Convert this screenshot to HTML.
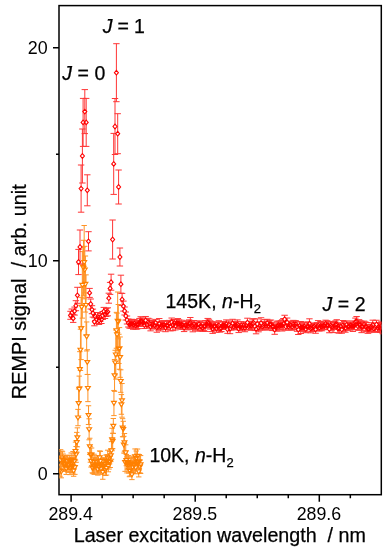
<!DOCTYPE html>
<html><head><meta charset="utf-8"><style>
html,body{margin:0;padding:0;background:#fff;width:388px;height:550px;overflow:hidden}
svg{display:block}
</style></head><body>
<svg width="388" height="550" viewBox="0 0 388 550">
<path d="M53.0 473.70H59.0M53.0 260.70H59.0M53.0 47.70H59.0M56.0 367.20H59.0M56.0 154.20H59.0M71.10 494.7v7.0M102.12 494.7v3.6M133.15 494.7v3.6M164.17 494.7v3.6M195.20 494.7v7.0M226.22 494.7v3.6M257.25 494.7v3.6M288.28 494.7v3.6M319.30 494.7v7.0M350.33 494.7v3.6" stroke="#000" stroke-width="1.5" fill="none"/><rect x="59.0" y="5.6" width="322.3" height="489.09999999999997" stroke="#000" stroke-width="1.5" fill="none"/><clipPath id="c"><rect x="59.0" y="5.6" width="322.3" height="489.09999999999997"/></clipPath><g clip-path="url(#c)"><path d="M60.00 464.71V476.25M57.30 464.71h5.4M57.30 476.25h5.4M60.62 449.71V470.19M57.92 449.71h5.4M57.92 470.19h5.4M61.24 465.24V477.82M58.54 465.24h5.4M58.54 477.82h5.4M61.86 451.07V464.17M59.16 451.07h5.4M59.16 464.17h5.4M62.48 451.82V467.00M59.78 451.82h5.4M59.78 467.00h5.4M63.10 454.00V466.60M60.40 454.00h5.4M60.40 466.60h5.4M63.72 458.47V470.61M61.02 458.47h5.4M61.02 470.61h5.4M64.34 456.40V470.50M61.64 456.40h5.4M61.64 470.50h5.4M64.96 457.78V471.32M62.26 457.78h5.4M62.26 471.32h5.4M65.58 458.47V471.07M62.88 458.47h5.4M62.88 471.07h5.4M66.20 462.35V474.43M63.50 462.35h5.4M63.50 474.43h5.4M66.82 455.44V467.42M64.12 455.44h5.4M64.12 467.42h5.4M67.44 455.21V467.87M64.74 455.21h5.4M64.74 467.87h5.4M68.06 462.23V472.41M65.36 462.23h5.4M65.36 472.41h5.4M68.68 459.21V469.41M65.98 459.21h5.4M65.98 469.41h5.4M69.30 455.43V466.29M66.60 455.43h5.4M66.60 466.29h5.4M69.92 460.32V474.64M67.22 460.32h5.4M67.22 474.64h5.4M70.54 457.19V471.61M67.84 457.19h5.4M67.84 471.61h5.4M71.16 452.99V466.83M68.46 452.99h5.4M68.46 466.83h5.4M71.78 459.39V472.61M69.08 459.39h5.4M69.08 472.61h5.4M72.40 460.05V473.07M69.70 460.05h5.4M69.70 473.07h5.4M73.02 451.56V467.14M70.32 451.56h5.4M70.32 467.14h5.4M73.64 465.00V476.28M70.94 465.00h5.4M70.94 476.28h5.4M74.26 455.38V466.68M71.56 455.38h5.4M71.56 466.68h5.4M74.88 460.20V474.36M72.18 460.20h5.4M72.18 474.36h5.4M75.50 442.11V459.97M72.80 442.11h5.4M72.80 459.97h5.4M76.12 446.51V462.29M73.42 446.51h5.4M73.42 462.29h5.4M76.74 432.39V452.05M74.04 432.39h5.4M74.04 452.05h5.4M77.36 427.85V446.83M74.66 427.85h5.4M74.66 446.83h5.4M77.98 409.36V425.72M75.28 409.36h5.4M75.28 425.72h5.4M78.60 388.99V417.45M75.90 388.99h5.4M75.90 417.45h5.4M79.22 376.10V401.74M76.52 376.10h5.4M76.52 401.74h5.4M79.84 351.67V386.73M77.14 351.67h5.4M77.14 386.73h5.4M80.46 329.18V370.44M77.76 329.18h5.4M77.76 370.44h5.4M81.08 297.34V359.62M78.38 297.34h5.4M78.38 359.62h5.4M81.70 287.41V326.49M79.00 287.41h5.4M79.00 326.49h5.4M82.32 251.60V318.14M79.62 251.60h5.4M79.62 318.14h5.4M82.94 247.16V286.22M80.24 247.16h5.4M80.24 286.22h5.4M83.56 240.31V295.33M80.86 240.31h5.4M80.86 295.33h5.4M84.18 225.50V298.82M81.48 225.50h5.4M81.48 298.82h5.4M84.80 246.32V292.96M82.10 246.32h5.4M82.10 292.96h5.4M85.42 256.01V312.05M82.72 256.01h5.4M82.72 312.05h5.4M86.04 274.86V335.24M83.34 274.86h5.4M83.34 335.24h5.4M86.66 321.96V350.96M83.96 321.96h5.4M83.96 350.96h5.4M87.28 349.75V374.43M84.58 349.75h5.4M84.58 374.43h5.4M87.90 374.51V401.63M85.20 374.51h5.4M85.20 401.63h5.4M88.52 405.75V424.47M85.82 405.75h5.4M85.82 424.47h5.4M89.14 418.81V439.81M86.44 418.81h5.4M86.44 439.81h5.4M89.76 438.24V454.44M87.06 438.24h5.4M87.06 454.44h5.4M90.38 446.75V462.21M87.68 446.75h5.4M87.68 462.21h5.4M91.00 454.79V467.09M88.30 454.79h5.4M88.30 467.09h5.4M91.62 448.02V461.46M88.92 448.02h5.4M88.92 461.46h5.4M92.24 461.93V472.87M89.54 461.93h5.4M89.54 472.87h5.4M92.86 462.71V473.29M90.16 462.71h5.4M90.16 473.29h5.4M93.48 458.04V474.00M90.78 458.04h5.4M90.78 474.00h5.4M94.10 454.21V469.59M91.40 454.21h5.4M91.40 469.59h5.4M94.72 457.35V474.35M92.02 457.35h5.4M92.02 474.35h5.4M95.34 458.81V469.77M92.64 458.81h5.4M92.64 469.77h5.4M95.96 455.73V467.83M93.26 455.73h5.4M93.26 467.83h5.4M96.58 458.23V472.21M93.88 458.23h5.4M93.88 472.21h5.4M97.20 458.05V470.97M94.50 458.05h5.4M94.50 470.97h5.4M97.82 463.53V475.11M95.12 463.53h5.4M95.12 475.11h5.4M98.44 459.29V473.31M95.74 459.29h5.4M95.74 473.31h5.4M99.06 462.12V472.34M96.36 462.12h5.4M96.36 472.34h5.4M99.68 450.93V464.09M96.98 450.93h5.4M96.98 464.09h5.4M100.30 451.39V470.75M97.60 451.39h5.4M97.60 470.75h5.4M100.92 462.82V474.34M98.22 462.82h5.4M98.22 474.34h5.4M101.54 458.18V471.20M98.84 458.18h5.4M98.84 471.20h5.4M102.16 458.13V470.31M99.46 458.13h5.4M99.46 470.31h5.4M102.78 464.74V479.28M100.08 464.74h5.4M100.08 479.28h5.4M103.40 459.47V472.61M100.70 459.47h5.4M100.70 472.61h5.4M104.02 457.77V471.39M101.32 457.77h5.4M101.32 471.39h5.4M104.64 458.97V469.17M101.94 458.97h5.4M101.94 469.17h5.4M105.26 465.40V475.52M102.56 465.40h5.4M102.56 475.52h5.4M105.88 455.08V466.08M103.18 455.08h5.4M103.18 466.08h5.4M106.50 460.90V475.08M103.80 460.90h5.4M103.80 475.08h5.4M107.12 454.64V466.54M104.42 454.64h5.4M104.42 466.54h5.4M107.74 450.19V465.27M105.04 450.19h5.4M105.04 465.27h5.4M108.36 459.91V471.81M105.66 459.91h5.4M105.66 471.81h5.4M108.98 454.57V469.09M106.28 454.57h5.4M106.28 469.09h5.4M109.60 451.45V463.85M106.90 451.45h5.4M106.90 463.85h5.4M110.22 456.18V467.52M107.52 456.18h5.4M107.52 467.52h5.4M110.84 449.19V461.61M108.14 449.19h5.4M108.14 461.61h5.4M111.46 441.65V459.21M108.76 441.65h5.4M108.76 459.21h5.4M112.08 428.25V450.75M109.38 428.25h5.4M109.38 450.75h5.4M112.70 433.25V448.71M110.00 433.25h5.4M110.00 448.71h5.4M113.32 418.48V433.40M110.62 418.48h5.4M110.62 433.40h5.4M113.94 390.46V415.60M111.24 390.46h5.4M111.24 415.60h5.4M114.56 359.56V391.36M111.86 359.56h5.4M111.86 391.36h5.4M115.18 350.27V374.89M112.48 350.27h5.4M112.48 374.89h5.4M115.80 329.99V379.09M113.10 329.99h5.4M113.10 379.09h5.4M116.42 312.34V348.24M113.72 312.34h5.4M113.72 348.24h5.4M117.04 313.18V355.84M114.34 313.18h5.4M114.34 355.84h5.4M117.66 292.00V350.02M114.96 292.00h5.4M114.96 350.02h5.4M118.28 304.50V338.88M115.58 304.50h5.4M115.58 338.88h5.4M118.90 334.26V363.50M116.20 334.26h5.4M116.20 363.50h5.4M119.52 327.58V369.28M116.82 327.58h5.4M116.82 369.28h5.4M120.14 336.96V377.32M117.44 336.96h5.4M117.44 377.32h5.4M120.76 369.82V392.34M118.06 369.82h5.4M118.06 392.34h5.4M121.38 394.58V414.26M118.68 394.58h5.4M118.68 414.26h5.4M122.00 383.54V417.20M119.30 383.54h5.4M119.30 417.20h5.4M122.62 418.67V436.71M119.92 418.67h5.4M119.92 436.71h5.4M123.24 421.29V436.79M120.54 421.29h5.4M120.54 436.79h5.4M123.86 436.29V453.05M121.16 436.29h5.4M121.16 453.05h5.4M124.48 433.54V451.24M121.78 433.54h5.4M121.78 451.24h5.4M125.10 453.19V471.35M122.40 453.19h5.4M122.40 471.35h5.4M125.72 444.79V460.27M123.02 444.79h5.4M123.02 460.27h5.4M126.34 454.47V465.75M123.64 454.47h5.4M123.64 465.75h5.4M126.96 456.86V472.90M124.26 456.86h5.4M124.26 472.90h5.4M127.58 457.95V469.21M124.88 457.95h5.4M124.88 469.21h5.4M128.20 455.80V468.40M125.50 455.80h5.4M125.50 468.40h5.4M128.82 455.77V473.15M126.12 455.77h5.4M126.12 473.15h5.4M129.44 463.91V476.73M126.74 463.91h5.4M126.74 476.73h5.4M130.06 465.77V475.99M127.36 465.77h5.4M127.36 475.99h5.4M130.68 458.32V468.68M127.98 458.32h5.4M127.98 468.68h5.4M131.30 457.22V471.56M128.60 457.22h5.4M128.60 471.56h5.4M131.92 469.34V479.62M129.22 469.34h5.4M129.22 479.62h5.4M132.54 460.60V473.44M129.84 460.60h5.4M129.84 473.44h5.4M133.16 457.03V470.71M130.46 457.03h5.4M130.46 470.71h5.4M133.78 457.16V473.38M131.08 457.16h5.4M131.08 473.38h5.4M134.40 459.07V471.15M131.70 459.07h5.4M131.70 471.15h5.4M135.02 448.95V463.91M132.32 448.95h5.4M132.32 463.91h5.4M135.64 461.37V473.79M132.94 461.37h5.4M132.94 473.79h5.4M136.26 450.99V465.09M133.56 450.99h5.4M133.56 465.09h5.4M136.88 455.67V468.15M134.18 455.67h5.4M134.18 468.15h5.4M137.50 449.04V462.74M134.80 449.04h5.4M134.80 462.74h5.4M138.12 456.07V467.91M135.42 456.07h5.4M135.42 467.91h5.4M138.74 466.12V476.92M136.04 466.12h5.4M136.04 476.92h5.4M139.36 454.54V468.52M136.66 454.54h5.4M136.66 468.52h5.4M139.98 460.32V472.90M137.28 460.32h5.4M137.28 472.90h5.4M140.60 455.58V473.48M137.90 455.58h5.4M137.90 473.48h5.4" stroke="#ff9326" stroke-width="1.0" fill="none"/><path d="M57.60 468.92h4.80L60.00 472.82ZM58.22 458.39h4.80L60.62 462.29ZM58.84 469.97h4.80L61.24 473.87ZM59.46 456.06h4.80L61.86 459.96ZM60.08 457.85h4.80L62.48 461.75ZM60.70 458.74h4.80L63.10 462.64ZM61.32 462.98h4.80L63.72 466.88ZM61.94 461.89h4.80L64.34 465.79ZM62.56 462.99h4.80L64.96 466.89ZM63.18 463.21h4.80L65.58 467.11ZM63.80 466.83h4.80L66.20 470.73ZM64.42 459.87h4.80L66.82 463.77ZM65.04 459.98h4.80L67.44 463.88ZM65.66 465.76h4.80L68.06 469.66ZM66.28 462.75h4.80L68.68 466.65ZM66.90 459.30h4.80L69.30 463.20ZM67.52 465.92h4.80L69.92 469.82ZM68.14 462.84h4.80L70.54 466.74ZM68.76 458.35h4.80L71.16 462.25ZM69.38 464.44h4.80L71.78 468.34ZM70.00 465.00h4.80L72.40 468.90ZM70.62 457.79h4.80L73.02 461.69ZM71.24 469.08h4.80L73.64 472.98ZM71.86 459.47h4.80L74.26 463.37ZM72.48 465.72h4.80L74.88 469.62ZM73.10 449.48h4.80L75.50 453.38ZM73.72 452.84h4.80L76.12 456.74ZM74.34 440.66h4.80L76.74 444.56ZM74.96 435.78h4.80L77.36 439.68ZM75.58 415.98h4.80L77.98 419.88ZM76.20 401.66h4.80L78.60 405.56ZM76.82 387.36h4.80L79.22 391.26ZM77.44 367.64h4.80L79.84 371.54ZM78.06 348.25h4.80L80.46 352.15ZM78.68 326.92h4.80L81.08 330.82ZM79.30 305.39h4.80L81.70 309.29ZM79.92 283.31h4.80L82.32 287.21ZM80.54 265.13h4.80L82.94 269.03ZM81.16 266.26h4.80L83.56 270.16ZM81.78 260.60h4.80L84.18 264.50ZM82.40 268.08h4.80L84.80 271.98ZM83.02 282.47h4.80L85.42 286.37ZM83.64 303.49h4.80L86.04 307.39ZM84.26 334.90h4.80L86.66 338.80ZM84.88 360.53h4.80L87.28 364.43ZM85.50 386.51h4.80L87.90 390.41ZM86.12 413.55h4.80L88.52 417.45ZM86.74 427.75h4.80L89.14 431.65ZM87.36 444.78h4.80L89.76 448.68ZM87.98 452.92h4.80L90.38 456.82ZM88.60 459.38h4.80L91.00 463.28ZM89.22 453.18h4.80L91.62 457.08ZM89.84 465.84h4.80L92.24 469.74ZM90.46 466.44h4.80L92.86 470.34ZM91.08 464.46h4.80L93.48 468.36ZM91.70 460.34h4.80L94.10 464.24ZM92.32 464.29h4.80L94.72 468.19ZM92.94 462.73h4.80L95.34 466.63ZM93.56 460.22h4.80L95.96 464.12ZM94.18 463.66h4.80L96.58 467.56ZM94.80 462.95h4.80L97.20 466.85ZM95.42 467.76h4.80L97.82 471.66ZM96.04 464.74h4.80L98.44 468.64ZM96.66 465.67h4.80L99.06 469.57ZM97.28 455.95h4.80L99.68 459.85ZM97.90 459.51h4.80L100.30 463.41ZM98.52 467.02h4.80L100.92 470.92ZM99.14 463.13h4.80L101.54 467.03ZM99.76 462.66h4.80L102.16 466.56ZM100.38 470.45h4.80L102.78 474.35ZM101.00 464.48h4.80L103.40 468.38ZM101.62 463.02h4.80L104.02 466.92ZM102.24 462.51h4.80L104.64 466.41ZM102.86 468.90h4.80L105.26 472.80ZM103.48 459.02h4.80L105.88 462.92ZM104.10 466.43h4.80L106.50 470.33ZM104.72 459.03h4.80L107.12 462.93ZM105.34 456.17h4.80L107.74 460.07ZM105.96 464.30h4.80L108.36 468.20ZM106.58 460.27h4.80L108.98 464.17ZM107.20 456.09h4.80L109.60 459.99ZM107.82 460.29h4.80L110.22 464.19ZM108.44 453.84h4.80L110.84 457.74ZM109.06 448.87h4.80L111.46 452.77ZM109.68 437.94h4.80L112.08 441.84ZM110.30 439.42h4.80L112.70 443.32ZM110.92 424.38h4.80L113.32 428.28ZM111.54 401.47h4.80L113.94 405.37ZM112.16 373.90h4.80L114.56 377.80ZM112.78 361.02h4.80L115.18 364.92ZM113.40 352.98h4.80L115.80 356.88ZM114.02 328.73h4.80L116.42 332.63ZM114.64 332.95h4.80L117.04 336.85ZM115.26 319.45h4.80L117.66 323.35ZM115.88 320.13h4.80L118.28 324.03ZM116.50 347.32h4.80L118.90 351.22ZM117.12 346.87h4.80L119.52 350.77ZM117.74 355.58h4.80L120.14 359.48ZM118.36 379.52h4.80L120.76 383.42ZM118.98 402.86h4.80L121.38 406.76ZM119.60 398.81h4.80L122.00 402.71ZM120.22 426.13h4.80L122.62 430.03ZM120.84 427.48h4.80L123.24 431.38ZM121.46 443.11h4.80L123.86 447.01ZM122.08 440.83h4.80L124.48 444.73ZM122.70 460.71h4.80L125.10 464.61ZM123.32 450.97h4.80L125.72 454.87ZM123.94 458.55h4.80L126.34 462.45ZM124.56 463.32h4.80L126.96 467.22ZM125.18 462.02h4.80L127.58 465.92ZM125.80 460.54h4.80L128.20 464.44ZM126.42 462.90h4.80L128.82 466.80ZM127.04 468.76h4.80L129.44 472.66ZM127.66 469.32h4.80L130.06 473.22ZM128.28 461.94h4.80L130.68 465.84ZM128.90 462.83h4.80L131.30 466.73ZM129.52 472.92h4.80L131.92 476.82ZM130.14 465.46h4.80L132.54 469.36ZM130.76 462.31h4.80L133.16 466.21ZM131.38 463.71h4.80L133.78 467.61ZM132.00 463.55h4.80L134.40 467.45ZM132.62 454.87h4.80L135.02 458.77ZM133.24 466.02h4.80L135.64 469.92ZM133.86 456.48h4.80L136.26 460.38ZM134.48 460.35h4.80L136.88 464.25ZM135.10 454.33h4.80L137.50 458.23ZM135.72 460.43h4.80L138.12 464.33ZM136.34 469.96h4.80L138.74 473.86ZM136.96 459.97h4.80L139.36 463.87ZM137.58 465.05h4.80L139.98 468.95ZM138.20 462.97h4.80L140.60 466.87Z" stroke="#ff8000" stroke-width="1.2" fill="#fff"/><path d="M70.50 311.30V319.30M67.30 311.30h6.4M67.30 319.30h6.4M71.80 309.00V317.00M68.60 309.00h6.4M68.60 317.00h6.4M73.20 314.40V322.40M70.00 314.40h6.4M70.00 322.40h6.4M74.60 307.10V315.10M71.40 307.10h6.4M71.40 315.10h6.4M75.90 300.70V310.70M72.70 300.70h6.4M72.70 310.70h6.4M77.40 287.30V303.30M74.20 287.30h6.4M74.20 303.30h6.4M78.50 249.40V274.60M75.30 249.40h6.4M75.30 274.60h6.4M80.00 230.00V264.00M76.80 230.00h6.4M76.80 264.00h6.4M81.10 165.00V212.20M77.90 165.00h6.4M77.90 212.20h6.4M82.40 129.00V183.00M79.20 129.00h6.4M79.20 183.00h6.4M83.10 98.40V146.40M79.90 98.40h6.4M79.90 146.40h6.4M84.80 89.60V133.60M81.60 89.60h6.4M81.60 133.60h6.4M86.20 98.40V146.40M83.00 98.40h6.4M83.00 146.40h6.4M87.30 174.80V205.80M84.10 174.80h6.4M84.10 205.80h6.4M88.50 231.70V250.90M85.30 231.70h6.4M85.30 250.90h6.4M89.60 288.40V297.40M86.40 288.40h6.4M86.40 297.40h6.4M90.70 299.00V309.00M87.50 299.00h6.4M87.50 309.00h6.4M92.00 305.70V313.70M88.80 305.70h6.4M88.80 313.70h6.4M92.90 309.10V317.10M89.70 309.10h6.4M89.70 317.10h6.4M94.40 317.80V325.80M91.20 317.80h6.4M91.20 325.80h6.4M95.40 312.50V320.50M92.20 312.50h6.4M92.20 320.50h6.4M96.60 315.50V323.50M93.40 315.50h6.4M93.40 323.50h6.4M97.80 312.50V321.50M94.60 312.50h6.4M94.60 321.50h6.4M99.00 316.50V324.50M95.80 316.50h6.4M95.80 324.50h6.4M100.20 313.50V321.50M97.00 313.50h6.4M97.00 321.50h6.4M101.40 315.50V323.50M98.20 315.50h6.4M98.20 323.50h6.4M102.70 311.50V319.50M99.50 311.50h6.4M99.50 319.50h6.4M103.80 307.40V315.40M100.60 307.40h6.4M100.60 315.40h6.4M105.00 310.50V318.50M101.80 310.50h6.4M101.80 318.50h6.4M106.30 308.50V316.50M103.10 308.50h6.4M103.10 316.50h6.4M107.80 307.80V315.80M104.60 307.80h6.4M104.60 315.80h6.4M108.80 293.20V303.20M105.60 293.20h6.4M105.60 303.20h6.4M110.10 282.40V294.40M106.90 282.40h6.4M106.90 294.40h6.4M111.10 274.20V290.20M107.90 274.20h6.4M107.90 290.20h6.4M112.60 220.00V259.00M109.40 220.00h6.4M109.40 259.00h6.4M113.70 133.40V194.40M110.50 133.40h6.4M110.50 194.40h6.4M115.00 98.50V154.50M111.80 98.50h6.4M111.80 154.50h6.4M116.40 43.70V101.70M113.20 43.70h6.4M113.20 101.70h6.4M117.70 113.70V153.70M114.50 113.70h6.4M114.50 153.70h6.4M118.60 170.00V204.00M115.40 170.00h6.4M115.40 204.00h6.4M119.90 248.00V266.00M116.70 248.00h6.4M116.70 266.00h6.4M120.90 275.20V293.20M117.70 275.20h6.4M117.70 293.20h6.4M122.10 293.40V305.40M118.90 293.40h6.4M118.90 305.40h6.4M123.40 301.10V311.10M120.20 301.10h6.4M120.20 311.10h6.4M124.60 307.00V315.00M121.40 307.00h6.4M121.40 315.00h6.4M125.80 312.00V320.00M122.60 312.00h6.4M122.60 320.00h6.4M127.00 316.00V324.00M123.80 316.00h6.4M123.80 324.00h6.4M128.30 319.00V327.00M125.10 319.00h6.4M125.10 327.00h6.4M129.50 320.70V328.10M126.30 320.70h6.4M126.30 328.10h6.4M130.74 319.66V328.24M127.54 319.66h6.4M127.54 328.24h6.4M131.98 319.28V328.06M128.78 319.28h6.4M128.78 328.06h6.4M133.22 319.83V329.31M130.02 319.83h6.4M130.02 329.31h6.4M134.46 319.63V327.67M131.26 319.63h6.4M131.26 327.67h6.4M135.71 321.59V329.11M132.51 321.59h6.4M132.51 329.11h6.4M136.95 320.39V329.05M133.75 320.39h6.4M133.75 329.05h6.4M138.19 320.41V328.61M134.99 320.41h6.4M134.99 328.61h6.4M139.43 318.44V326.16M136.23 318.44h6.4M136.23 326.16h6.4M140.67 316.69V326.07M137.47 316.69h6.4M137.47 326.07h6.4M141.91 317.87V325.15M138.71 317.87h6.4M138.71 325.15h6.4M143.15 318.84V326.18M139.95 318.84h6.4M139.95 326.18h6.4M144.39 321.36V328.54M141.19 321.36h6.4M141.19 328.54h6.4M145.63 316.49V324.37M142.43 316.49h6.4M142.43 324.37h6.4M146.87 321.15V328.17M143.67 321.15h6.4M143.67 328.17h6.4M148.12 318.28V326.04M144.92 318.28h6.4M144.92 326.04h6.4M149.36 318.91V327.33M146.16 318.91h6.4M146.16 327.33h6.4M150.60 322.41V330.83M147.40 322.41h6.4M147.40 330.83h6.4M151.84 320.51V329.07M148.64 320.51h6.4M148.64 329.07h6.4M153.08 320.37V327.39M149.88 320.37h6.4M149.88 327.39h6.4M154.32 321.64V328.56M151.12 321.64h6.4M151.12 328.56h6.4M155.56 319.38V326.34M152.36 319.38h6.4M152.36 326.34h6.4M156.80 322.33V332.23M153.60 322.33h6.4M153.60 332.23h6.4M158.04 322.94V329.98M154.84 322.94h6.4M154.84 329.98h6.4M159.28 318.54V329.34M156.08 318.54h6.4M156.08 329.34h6.4M160.53 321.76V330.96M157.33 321.76h6.4M157.33 330.96h6.4M161.77 321.24V329.20M158.57 321.24h6.4M158.57 329.20h6.4M163.01 320.72V328.88M159.81 320.72h6.4M159.81 328.88h6.4M164.25 320.97V329.11M161.05 320.97h6.4M161.05 329.11h6.4M165.49 323.53V331.69M162.29 323.53h6.4M162.29 331.69h6.4M166.73 321.65V329.37M163.53 321.65h6.4M163.53 329.37h6.4M167.97 320.74V329.92M164.77 320.74h6.4M164.77 329.92h6.4M169.21 320.41V327.61M166.01 320.41h6.4M166.01 327.61h6.4M170.45 321.76V330.86M167.25 321.76h6.4M167.25 330.86h6.4M171.69 318.04V326.42M168.49 318.04h6.4M168.49 326.42h6.4M172.94 319.85V330.63M169.74 319.85h6.4M169.74 330.63h6.4M174.18 319.54V326.54M170.98 319.54h6.4M170.98 326.54h6.4M175.42 321.71V329.89M172.22 321.71h6.4M172.22 329.89h6.4M176.66 319.37V326.91M173.46 319.37h6.4M173.46 326.91h6.4M177.90 318.59V328.43M174.70 318.59h6.4M174.70 328.43h6.4M179.14 319.89V327.29M175.94 319.89h6.4M175.94 327.29h6.4M180.38 321.81V328.85M177.18 321.81h6.4M177.18 328.85h6.4M181.62 320.24V329.26M178.42 320.24h6.4M178.42 329.26h6.4M182.86 321.50V329.18M179.66 321.50h6.4M179.66 329.18h6.4M184.10 323.47V331.57M180.90 323.47h6.4M180.90 331.57h6.4M185.35 321.53V329.67M182.15 321.53h6.4M182.15 329.67h6.4M186.59 320.68V329.58M183.39 320.68h6.4M183.39 329.58h6.4M187.83 321.77V329.73M184.63 321.77h6.4M184.63 329.73h6.4M189.07 319.85V327.35M185.87 319.85h6.4M185.87 327.35h6.4M190.31 317.52V328.40M187.11 317.52h6.4M187.11 328.40h6.4M191.55 321.05V329.65M188.35 321.05h6.4M188.35 329.65h6.4M192.79 320.54V331.82M189.59 320.54h6.4M189.59 331.82h6.4M194.03 320.50V328.54M190.83 320.50h6.4M190.83 328.54h6.4M195.27 322.43V330.21M192.07 322.43h6.4M192.07 330.21h6.4M196.51 322.09V329.31M193.31 322.09h6.4M193.31 329.31h6.4M197.76 323.31V331.15M194.56 323.31h6.4M194.56 331.15h6.4M199.00 320.83V327.79M195.80 320.83h6.4M195.80 327.79h6.4M200.24 321.71V330.61M197.04 321.71h6.4M197.04 330.61h6.4M201.48 322.32V330.84M198.28 322.32h6.4M198.28 330.84h6.4M202.72 324.23V331.41M199.52 324.23h6.4M199.52 331.41h6.4M203.96 322.36V330.34M200.76 322.36h6.4M200.76 330.34h6.4M205.20 320.63V331.43M202.00 320.63h6.4M202.00 331.43h6.4M206.44 320.59V328.11M203.24 320.59h6.4M203.24 328.11h6.4M207.68 318.43V326.93M204.48 318.43h6.4M204.48 326.93h6.4M208.92 319.21V327.53M205.72 319.21h6.4M205.72 327.53h6.4M210.17 320.75V329.11M206.97 320.75h6.4M206.97 329.11h6.4M211.41 321.69V331.57M208.21 321.69h6.4M208.21 331.57h6.4M212.65 323.72V333.40M209.45 323.72h6.4M209.45 333.40h6.4M213.89 322.69V330.03M210.69 322.69h6.4M210.69 330.03h6.4M215.13 321.85V330.61M211.93 321.85h6.4M211.93 330.61h6.4M216.37 324.42V332.30M213.17 324.42h6.4M213.17 332.30h6.4M217.61 322.21V330.59M214.41 322.21h6.4M214.41 330.59h6.4M218.85 320.74V330.10M215.65 320.74h6.4M215.65 330.10h6.4M220.09 325.07V332.17M216.89 325.07h6.4M216.89 332.17h6.4M221.33 324.71V331.53M218.13 324.71h6.4M218.13 331.53h6.4M222.58 321.56V329.02M219.38 321.56h6.4M219.38 329.02h6.4M223.82 322.10V328.92M220.62 322.10h6.4M220.62 328.92h6.4M225.06 322.12V329.52M221.86 322.12h6.4M221.86 329.52h6.4M226.30 319.90V328.32M223.10 319.90h6.4M223.10 328.32h6.4M227.54 325.19V333.33M224.34 325.19h6.4M224.34 333.33h6.4M228.78 320.91V328.39M225.58 320.91h6.4M225.58 328.39h6.4M230.02 323.98V333.68M226.82 323.98h6.4M226.82 333.68h6.4M231.26 322.05V330.11M228.06 322.05h6.4M228.06 330.11h6.4M232.50 319.31V327.57M229.30 319.31h6.4M229.30 327.57h6.4M233.74 322.92V329.86M230.54 322.92h6.4M230.54 329.86h6.4M234.99 321.29V328.99M231.79 321.29h6.4M231.79 328.99h6.4M236.23 321.96V329.04M233.03 321.96h6.4M233.03 329.04h6.4M237.47 319.90V329.14M234.27 319.90h6.4M234.27 329.14h6.4M238.71 324.75V332.57M235.51 324.75h6.4M235.51 332.57h6.4M239.95 323.43V330.29M236.75 323.43h6.4M236.75 330.29h6.4M241.19 321.64V329.46M237.99 321.64h6.4M237.99 329.46h6.4M242.43 323.55V330.95M239.23 323.55h6.4M239.23 330.95h6.4M243.67 322.30V329.14M240.47 322.30h6.4M240.47 329.14h6.4M244.91 323.60V331.76M241.71 323.60h6.4M241.71 331.76h6.4M246.15 322.00V329.92M242.95 322.00h6.4M242.95 329.92h6.4M247.40 318.21V326.91M244.20 318.21h6.4M244.20 326.91h6.4M248.64 322.69V329.77M245.44 322.69h6.4M245.44 329.77h6.4M249.88 321.18V329.54M246.68 321.18h6.4M246.68 329.54h6.4M251.12 321.60V330.24M247.92 321.60h6.4M247.92 330.24h6.4M252.36 319.08V328.90M249.16 319.08h6.4M249.16 328.90h6.4M253.60 318.73V327.25M250.40 318.73h6.4M250.40 327.25h6.4M254.84 322.03V330.57M251.64 322.03h6.4M251.64 330.57h6.4M256.08 324.05V333.81M252.88 324.05h6.4M252.88 333.81h6.4M257.32 318.88V329.06M254.12 318.88h6.4M254.12 329.06h6.4M258.56 322.98V331.82M255.36 322.98h6.4M255.36 331.82h6.4M259.81 321.78V330.26M256.61 321.78h6.4M256.61 330.26h6.4M261.05 317.75V328.77M257.85 317.75h6.4M257.85 328.77h6.4M262.29 323.04V329.92M259.09 323.04h6.4M259.09 329.92h6.4M263.53 322.16V329.04M260.33 322.16h6.4M260.33 329.04h6.4M264.77 319.63V329.45M261.57 319.63h6.4M261.57 329.45h6.4M266.01 321.35V330.09M262.81 321.35h6.4M262.81 330.09h6.4M267.25 319.31V327.13M264.05 319.31h6.4M264.05 327.13h6.4M268.49 322.11V329.73M265.29 322.11h6.4M265.29 329.73h6.4M269.73 320.30V328.42M266.53 320.30h6.4M266.53 328.42h6.4M270.97 320.06V328.64M267.77 320.06h6.4M267.77 328.64h6.4M272.22 322.21V330.57M269.02 322.21h6.4M269.02 330.57h6.4M273.46 322.93V330.41M270.26 322.93h6.4M270.26 330.41h6.4M274.70 324.73V334.31M271.50 324.73h6.4M271.50 334.31h6.4M275.94 324.09V331.07M272.74 324.09h6.4M272.74 331.07h6.4M277.18 321.19V330.89M273.98 321.19h6.4M273.98 330.89h6.4M278.42 321.09V329.37M275.22 321.09h6.4M275.22 329.37h6.4M279.66 322.29V329.25M276.46 322.29h6.4M276.46 329.25h6.4M280.90 320.68V329.78M277.70 320.68h6.4M277.70 329.78h6.4M282.14 319.80V331.00M278.94 319.80h6.4M278.94 331.00h6.4M283.38 318.53V329.27M280.18 318.53h6.4M280.18 329.27h6.4M284.63 315.26V323.12M281.43 315.26h6.4M281.43 323.12h6.4M285.87 323.27V330.17M282.67 323.27h6.4M282.67 330.17h6.4M287.11 318.04V326.72M283.91 318.04h6.4M283.91 326.72h6.4M288.35 322.88V330.00M285.15 322.88h6.4M285.15 330.00h6.4M289.59 321.45V328.35M286.39 321.45h6.4M286.39 328.35h6.4M290.83 321.11V329.53M287.63 321.11h6.4M287.63 329.53h6.4M292.07 323.00V330.24M288.87 323.00h6.4M288.87 330.24h6.4M293.31 320.36V328.18M290.11 320.36h6.4M290.11 328.18h6.4M294.55 320.64V329.62M291.35 320.64h6.4M291.35 329.62h6.4M295.79 320.77V327.85M292.59 320.77h6.4M292.59 327.85h6.4M297.04 321.87V331.31M293.84 321.87h6.4M293.84 331.31h6.4M298.28 324.77V334.49M295.08 324.77h6.4M295.08 334.49h6.4M299.52 321.82V330.16M296.32 321.82h6.4M296.32 330.16h6.4M300.76 321.49V333.51M297.56 321.49h6.4M297.56 333.51h6.4M302.00 323.90V330.82M298.80 323.90h6.4M298.80 330.82h6.4M303.24 322.66V331.62M300.04 322.66h6.4M300.04 331.62h6.4M304.48 322.93V330.09M301.28 322.93h6.4M301.28 330.09h6.4M305.72 325.23V332.69M302.52 325.23h6.4M302.52 332.69h6.4M306.96 321.98V331.84M303.76 321.98h6.4M303.76 331.84h6.4M308.20 322.16V329.74M305.00 322.16h6.4M305.00 329.74h6.4M309.45 318.81V328.75M306.25 318.81h6.4M306.25 328.75h6.4M310.69 324.16V332.80M307.49 324.16h6.4M307.49 332.80h6.4M311.93 324.44V331.46M308.73 324.44h6.4M308.73 331.46h6.4M313.17 323.51V330.81M309.97 323.51h6.4M309.97 330.81h6.4M314.41 322.97V329.87M311.21 322.97h6.4M311.21 329.87h6.4M315.65 325.35V333.27M312.45 325.35h6.4M312.45 333.27h6.4M316.89 322.63V330.59M313.69 322.63h6.4M313.69 330.59h6.4M318.13 320.61V330.61M314.93 320.61h6.4M314.93 330.61h6.4M319.37 324.05V330.99M316.17 324.05h6.4M316.17 330.99h6.4M320.61 321.54V330.56M317.41 321.54h6.4M317.41 330.56h6.4M321.86 322.23V330.77M318.66 322.23h6.4M318.66 330.77h6.4M323.10 322.29V329.55M319.90 322.29h6.4M319.90 329.55h6.4M324.34 322.67V329.69M321.14 322.67h6.4M321.14 329.69h6.4M325.58 320.18V327.46M322.38 320.18h6.4M322.38 327.46h6.4M326.82 320.77V329.33M323.62 320.77h6.4M323.62 329.33h6.4M328.06 321.19V329.15M324.86 321.19h6.4M324.86 329.15h6.4M329.30 325.34V332.76M326.10 325.34h6.4M326.10 332.76h6.4M330.54 321.82V329.00M327.34 321.82h6.4M327.34 329.00h6.4M331.78 322.01V330.79M328.58 322.01h6.4M328.58 330.79h6.4M333.02 321.75V332.59M329.82 321.75h6.4M329.82 332.59h6.4M334.27 322.34V329.54M331.07 322.34h6.4M331.07 329.54h6.4M335.51 320.87V328.31M332.31 320.87h6.4M332.31 328.31h6.4M336.75 319.72V328.74M333.55 319.72h6.4M333.55 328.74h6.4M337.99 324.21V332.83M334.79 324.21h6.4M334.79 332.83h6.4M339.23 323.25V333.09M336.03 323.25h6.4M336.03 333.09h6.4M340.47 322.81V330.71M337.27 322.81h6.4M337.27 330.71h6.4M341.71 326.02V333.22M338.51 326.02h6.4M338.51 333.22h6.4M342.95 320.53V330.03M339.75 320.53h6.4M339.75 330.03h6.4M344.19 321.47V331.23M340.99 321.47h6.4M340.99 331.23h6.4M345.43 323.55V332.23M342.23 323.55h6.4M342.23 332.23h6.4M346.68 320.87V328.67M343.48 320.87h6.4M343.48 328.67h6.4M347.92 323.06V330.28M344.72 323.06h6.4M344.72 330.28h6.4M349.16 322.74V330.14M345.96 322.74h6.4M345.96 330.14h6.4M350.40 321.95V328.83M347.20 321.95h6.4M347.20 328.83h6.4M351.64 322.50V329.46M348.44 322.50h6.4M348.44 329.46h6.4M352.88 320.92V331.46M349.68 320.92h6.4M349.68 331.46h6.4M354.12 322.56V329.48M350.92 322.56h6.4M350.92 329.48h6.4M355.36 318.09V325.67M352.16 318.09h6.4M352.16 325.67h6.4M356.60 316.52V326.14M353.40 316.52h6.4M353.40 326.14h6.4M357.84 322.09V330.31M354.64 322.09h6.4M354.64 330.31h6.4M359.09 319.68V329.90M355.89 319.68h6.4M355.89 329.90h6.4M360.33 320.75V328.91M357.13 320.75h6.4M357.13 328.91h6.4M361.57 321.32V332.64M358.37 321.32h6.4M358.37 332.64h6.4M362.81 322.46V330.82M359.61 322.46h6.4M359.61 330.82h6.4M364.05 321.11V328.03M360.85 321.11h6.4M360.85 328.03h6.4M365.29 321.90V331.00M362.09 321.90h6.4M362.09 331.00h6.4M366.53 322.53V331.63M363.33 322.53h6.4M363.33 331.63h6.4M367.77 324.40V333.32M364.57 324.40h6.4M364.57 333.32h6.4M369.01 325.02V332.76M365.81 325.02h6.4M365.81 332.76h6.4M370.25 324.45V331.51M367.05 324.45h6.4M367.05 331.51h6.4M371.50 322.76V330.24M368.30 322.76h6.4M368.30 330.24h6.4M372.74 320.17V329.85M369.54 320.17h6.4M369.54 329.85h6.4M373.98 325.04V332.22M370.78 325.04h6.4M370.78 332.22h6.4M375.22 323.30V332.10M372.02 323.30h6.4M372.02 332.10h6.4M376.46 320.26V328.62M373.26 320.26h6.4M373.26 328.62h6.4M377.70 323.96V331.54M374.50 323.96h6.4M374.50 331.54h6.4M378.94 322.43V331.29M375.74 322.43h6.4M375.74 331.29h6.4M380.18 323.31V332.53M376.98 323.31h6.4M376.98 332.53h6.4M381.42 321.81V330.23M378.22 321.81h6.4M378.22 330.23h6.4M382.66 323.09V333.69M379.46 323.09h6.4M379.46 333.69h6.4M383.90 325.89V333.89M380.70 325.89h6.4M380.70 333.89h6.4" stroke="#ff3535" stroke-width="1.0" fill="none"/><path d="M70.50 313.00L72.50 315.30L70.50 317.60L68.50 315.30ZM71.80 310.70L73.80 313.00L71.80 315.30L69.80 313.00ZM73.20 316.10L75.20 318.40L73.20 320.70L71.20 318.40ZM74.60 308.80L76.60 311.10L74.60 313.40L72.60 311.10ZM75.90 303.40L77.90 305.70L75.90 308.00L73.90 305.70ZM77.40 293.00L79.40 295.30L77.40 297.60L75.40 295.30ZM78.50 259.70L80.50 262.00L78.50 264.30L76.50 262.00ZM80.00 244.70L82.00 247.00L80.00 249.30L78.00 247.00ZM81.10 186.30L83.10 188.60L81.10 190.90L79.10 188.60ZM82.40 153.70L84.40 156.00L82.40 158.30L80.40 156.00ZM83.10 120.10L85.10 122.40L83.10 124.70L81.10 122.40ZM84.80 109.30L86.80 111.60L84.80 113.90L82.80 111.60ZM86.20 120.10L88.20 122.40L86.20 124.70L84.20 122.40ZM87.30 188.00L89.30 190.30L87.30 192.60L85.30 190.30ZM88.50 239.00L90.50 241.30L88.50 243.60L86.50 241.30ZM89.60 290.60L91.60 292.90L89.60 295.20L87.60 292.90ZM90.70 301.70L92.70 304.00L90.70 306.30L88.70 304.00ZM92.00 307.40L94.00 309.70L92.00 312.00L90.00 309.70ZM92.90 310.80L94.90 313.10L92.90 315.40L90.90 313.10ZM94.40 319.50L96.40 321.80L94.40 324.10L92.40 321.80ZM95.40 314.20L97.40 316.50L95.40 318.80L93.40 316.50ZM96.60 317.20L98.60 319.50L96.60 321.80L94.60 319.50ZM97.80 314.70L99.80 317.00L97.80 319.30L95.80 317.00ZM99.00 318.20L101.00 320.50L99.00 322.80L97.00 320.50ZM100.20 315.20L102.20 317.50L100.20 319.80L98.20 317.50ZM101.40 317.20L103.40 319.50L101.40 321.80L99.40 319.50ZM102.70 313.20L104.70 315.50L102.70 317.80L100.70 315.50ZM103.80 309.10L105.80 311.40L103.80 313.70L101.80 311.40ZM105.00 312.20L107.00 314.50L105.00 316.80L103.00 314.50ZM106.30 310.20L108.30 312.50L106.30 314.80L104.30 312.50ZM107.80 309.50L109.80 311.80L107.80 314.10L105.80 311.80ZM108.80 295.90L110.80 298.20L108.80 300.50L106.80 298.20ZM110.10 286.10L112.10 288.40L110.10 290.70L108.10 288.40ZM111.10 279.90L113.10 282.20L111.10 284.50L109.10 282.20ZM112.60 237.20L114.60 239.50L112.60 241.80L110.60 239.50ZM113.70 161.60L115.70 163.90L113.70 166.20L111.70 163.90ZM115.00 124.20L117.00 126.50L115.00 128.80L113.00 126.50ZM116.40 70.40L118.40 72.70L116.40 75.00L114.40 72.70ZM117.70 131.40L119.70 133.70L117.70 136.00L115.70 133.70ZM118.60 184.70L120.60 187.00L118.60 189.30L116.60 187.00ZM119.90 254.70L121.90 257.00L119.90 259.30L117.90 257.00ZM120.90 281.90L122.90 284.20L120.90 286.50L118.90 284.20ZM122.10 297.10L124.10 299.40L122.10 301.70L120.10 299.40ZM123.40 303.80L125.40 306.10L123.40 308.40L121.40 306.10ZM124.60 308.70L126.60 311.00L124.60 313.30L122.60 311.00ZM125.80 313.70L127.80 316.00L125.80 318.30L123.80 316.00ZM127.00 317.70L129.00 320.00L127.00 322.30L125.00 320.00ZM128.30 320.70L130.30 323.00L128.30 325.30L126.30 323.00ZM129.50 322.10L131.50 324.40L129.50 326.70L127.50 324.40ZM130.74 321.65L132.74 323.95L130.74 326.25L128.74 323.95ZM131.98 321.37L133.98 323.67L131.98 325.97L129.98 323.67ZM133.22 322.27L135.22 324.57L133.22 326.87L131.22 324.57ZM134.46 321.35L136.46 323.65L134.46 325.95L132.46 323.65ZM135.71 323.05L137.71 325.35L135.71 327.65L133.71 325.35ZM136.95 322.42L138.95 324.72L136.95 327.02L134.95 324.72ZM138.19 322.21L140.19 324.51L138.19 326.81L136.19 324.51ZM139.43 320.00L141.43 322.30L139.43 324.60L137.43 322.30ZM140.67 319.08L142.67 321.38L140.67 323.68L138.67 321.38ZM141.91 319.21L143.91 321.51L141.91 323.81L139.91 321.51ZM143.15 320.21L145.15 322.51L143.15 324.81L141.15 322.51ZM144.39 322.65L146.39 324.95L144.39 327.25L142.39 324.95ZM145.63 318.13L147.63 320.43L145.63 322.73L143.63 320.43ZM146.87 322.36L148.87 324.66L146.87 326.96L144.87 324.66ZM148.12 319.86L150.12 322.16L148.12 324.46L146.12 322.16ZM149.36 320.82L151.36 323.12L149.36 325.42L147.36 323.12ZM150.60 324.32L152.60 326.62L150.60 328.92L148.60 326.62ZM151.84 322.49L153.84 324.79L151.84 327.09L149.84 324.79ZM153.08 321.58L155.08 323.88L153.08 326.18L151.08 323.88ZM154.32 322.80L156.32 325.10L154.32 327.40L152.32 325.10ZM155.56 320.56L157.56 322.86L155.56 325.16L153.56 322.86ZM156.80 324.98L158.80 327.28L156.80 329.58L154.80 327.28ZM158.04 324.16L160.04 326.46L158.04 328.76L156.04 326.46ZM159.28 321.64L161.28 323.94L159.28 326.24L157.28 323.94ZM160.53 324.06L162.53 326.36L160.53 328.66L158.53 326.36ZM161.77 322.92L163.77 325.22L161.77 327.52L159.77 325.22ZM163.01 322.50L165.01 324.80L163.01 327.10L161.01 324.80ZM164.25 322.74L166.25 325.04L164.25 327.34L162.25 325.04ZM165.49 325.31L167.49 327.61L165.49 329.91L163.49 327.61ZM166.73 323.21L168.73 325.51L166.73 327.81L164.73 325.51ZM167.97 323.03L169.97 325.33L167.97 327.63L165.97 325.33ZM169.21 321.71L171.21 324.01L169.21 326.31L167.21 324.01ZM170.45 324.01L172.45 326.31L170.45 328.61L168.45 326.31ZM171.69 319.93L173.69 322.23L171.69 324.53L169.69 322.23ZM172.94 322.94L174.94 325.24L172.94 327.54L170.94 325.24ZM174.18 320.74L176.18 323.04L174.18 325.34L172.18 323.04ZM175.42 323.50L177.42 325.80L175.42 328.10L173.42 325.80ZM176.66 320.84L178.66 323.14L176.66 325.44L174.66 323.14ZM177.90 321.21L179.90 323.51L177.90 325.81L175.90 323.51ZM179.14 321.29L181.14 323.59L179.14 325.89L177.14 323.59ZM180.38 323.03L182.38 325.33L180.38 327.63L178.38 325.33ZM181.62 322.45L183.62 324.75L181.62 327.05L179.62 324.75ZM182.86 323.04L184.86 325.34L182.86 327.64L180.86 325.34ZM184.10 325.22L186.10 327.52L184.10 329.82L182.10 327.52ZM185.35 323.30L187.35 325.60L185.35 327.90L183.35 325.60ZM186.59 322.83L188.59 325.13L186.59 327.43L184.59 325.13ZM187.83 323.45L189.83 325.75L187.83 328.05L185.83 325.75ZM189.07 321.30L191.07 323.60L189.07 325.90L187.07 323.60ZM190.31 320.66L192.31 322.96L190.31 325.26L188.31 322.96ZM191.55 323.05L193.55 325.35L191.55 327.65L189.55 325.35ZM192.79 323.88L194.79 326.18L192.79 328.48L190.79 326.18ZM194.03 322.22L196.03 324.52L194.03 326.82L192.03 324.52ZM195.27 324.02L197.27 326.32L195.27 328.62L193.27 326.32ZM196.51 323.40L198.51 325.70L196.51 328.00L194.51 325.70ZM197.76 324.93L199.76 327.23L197.76 329.53L195.76 327.23ZM199.00 322.01L201.00 324.31L199.00 326.61L197.00 324.31ZM200.24 323.86L202.24 326.16L200.24 328.46L198.24 326.16ZM201.48 324.28L203.48 326.58L201.48 328.88L199.48 326.58ZM202.72 325.52L204.72 327.82L202.72 330.12L200.72 327.82ZM203.96 324.05L205.96 326.35L203.96 328.65L201.96 326.35ZM205.20 323.73L207.20 326.03L205.20 328.33L203.20 326.03ZM206.44 322.05L208.44 324.35L206.44 326.65L204.44 324.35ZM207.68 320.38L209.68 322.68L207.68 324.98L205.68 322.68ZM208.92 321.07L210.92 323.37L208.92 325.67L206.92 323.37ZM210.17 322.63L212.17 324.93L210.17 327.23L208.17 324.93ZM211.41 324.33L213.41 326.63L211.41 328.93L209.41 326.63ZM212.65 326.26L214.65 328.56L212.65 330.86L210.65 328.56ZM213.89 324.06L215.89 326.36L213.89 328.66L211.89 326.36ZM215.13 323.93L217.13 326.23L215.13 328.53L213.13 326.23ZM216.37 326.06L218.37 328.36L216.37 330.66L214.37 328.36ZM217.61 324.10L219.61 326.40L217.61 328.70L215.61 326.40ZM218.85 323.12L220.85 325.42L218.85 327.72L216.85 325.42ZM220.09 326.32L222.09 328.62L220.09 330.92L218.09 328.62ZM221.33 325.82L223.33 328.12L221.33 330.42L219.33 328.12ZM222.58 322.99L224.58 325.29L222.58 327.59L220.58 325.29ZM223.82 323.21L225.82 325.51L223.82 327.81L221.82 325.51ZM225.06 323.52L227.06 325.82L225.06 328.12L223.06 325.82ZM226.30 321.81L228.30 324.11L226.30 326.41L224.30 324.11ZM227.54 326.96L229.54 329.26L227.54 331.56L225.54 329.26ZM228.78 322.35L230.78 324.65L228.78 326.95L226.78 324.65ZM230.02 326.53L232.02 328.83L230.02 331.13L228.02 328.83ZM231.26 323.78L233.26 326.08L231.26 328.38L229.26 326.08ZM232.50 321.14L234.50 323.44L232.50 325.74L230.50 323.44ZM233.74 324.09L235.74 326.39L233.74 328.69L231.74 326.39ZM234.99 322.84L236.99 325.14L234.99 327.44L232.99 325.14ZM236.23 323.20L238.23 325.50L236.23 327.80L234.23 325.50ZM237.47 322.22L239.47 324.52L237.47 326.82L235.47 324.52ZM238.71 326.36L240.71 328.66L238.71 330.96L236.71 328.66ZM239.95 324.56L241.95 326.86L239.95 329.16L237.95 326.86ZM241.19 323.25L243.19 325.55L241.19 327.85L239.19 325.55ZM242.43 324.95L244.43 327.25L242.43 329.55L240.43 327.25ZM243.67 323.42L245.67 325.72L243.67 328.02L241.67 325.72ZM244.91 325.38L246.91 327.68L244.91 329.98L242.91 327.68ZM246.15 323.66L248.15 325.96L246.15 328.26L244.15 325.96ZM247.40 320.26L249.40 322.56L247.40 324.86L245.40 322.56ZM248.64 323.93L250.64 326.23L248.64 328.53L246.64 326.23ZM249.88 323.06L251.88 325.36L249.88 327.66L247.88 325.36ZM251.12 323.62L253.12 325.92L251.12 328.22L249.12 325.92ZM252.36 321.69L254.36 323.99L252.36 326.29L250.36 323.99ZM253.60 320.69L255.60 322.99L253.60 325.29L251.60 322.99ZM254.84 324.00L256.84 326.30L254.84 328.60L252.84 326.30ZM256.08 326.63L258.08 328.93L256.08 331.23L254.08 328.93ZM257.32 321.67L259.32 323.97L257.32 326.27L255.32 323.97ZM258.56 325.10L260.56 327.40L258.56 329.70L256.56 327.40ZM259.81 323.72L261.81 326.02L259.81 328.32L257.81 326.02ZM261.05 320.96L263.05 323.26L261.05 325.56L259.05 323.26ZM262.29 324.18L264.29 326.48L262.29 328.78L260.29 326.48ZM263.53 323.30L265.53 325.60L263.53 327.90L261.53 325.60ZM264.77 322.24L266.77 324.54L264.77 326.84L262.77 324.54ZM266.01 323.42L268.01 325.72L266.01 328.02L264.01 325.72ZM267.25 320.92L269.25 323.22L267.25 325.52L265.25 323.22ZM268.49 323.62L270.49 325.92L268.49 328.22L266.49 325.92ZM269.73 322.06L271.73 324.36L269.73 326.66L267.73 324.36ZM270.97 322.05L272.97 324.35L270.97 326.65L268.97 324.35ZM272.22 324.09L274.22 326.39L272.22 328.69L270.22 326.39ZM273.46 324.37L275.46 326.67L273.46 328.97L271.46 326.67ZM274.70 327.22L276.70 329.52L274.70 331.82L272.70 329.52ZM275.94 325.28L277.94 327.58L275.94 329.88L273.94 327.58ZM277.18 323.74L279.18 326.04L277.18 328.34L275.18 326.04ZM278.42 322.93L280.42 325.23L278.42 327.53L276.42 325.23ZM279.66 323.47L281.66 325.77L279.66 328.07L277.66 325.77ZM280.90 322.93L282.90 325.23L280.90 327.53L278.90 325.23ZM282.14 323.10L284.14 325.40L282.14 327.70L280.14 325.40ZM283.38 321.60L285.38 323.90L283.38 326.20L281.38 323.90ZM284.63 316.89L286.63 319.19L284.63 321.49L282.63 319.19ZM285.87 324.42L287.87 326.72L285.87 329.02L283.87 326.72ZM287.11 320.08L289.11 322.38L287.11 324.68L285.11 322.38ZM288.35 324.14L290.35 326.44L288.35 328.74L286.35 326.44ZM289.59 322.60L291.59 324.90L289.59 327.20L287.59 324.90ZM290.83 323.02L292.83 325.32L290.83 327.62L288.83 325.32ZM292.07 324.32L294.07 326.62L292.07 328.92L290.07 326.62ZM293.31 321.97L295.31 324.27L293.31 326.57L291.31 324.27ZM294.55 322.83L296.55 325.13L294.55 327.43L292.55 325.13ZM295.79 322.01L297.79 324.31L295.79 326.61L293.79 324.31ZM297.04 324.29L299.04 326.59L297.04 328.89L295.04 326.59ZM298.28 327.33L300.28 329.63L298.28 331.93L296.28 329.63ZM299.52 323.69L301.52 325.99L299.52 328.29L297.52 325.99ZM300.76 325.20L302.76 327.50L300.76 329.80L298.76 327.50ZM302.00 325.06L304.00 327.36L302.00 329.66L300.00 327.36ZM303.24 324.84L305.24 327.14L303.24 329.44L301.24 327.14ZM304.48 324.21L306.48 326.51L304.48 328.81L302.48 326.51ZM305.72 326.66L307.72 328.96L305.72 331.26L303.72 328.96ZM306.96 324.61L308.96 326.91L306.96 329.21L304.96 326.91ZM308.20 323.65L310.20 325.95L308.20 328.25L306.20 325.95ZM309.45 321.48L311.45 323.78L309.45 326.08L307.45 323.78ZM310.69 326.18L312.69 328.48L310.69 330.78L308.69 328.48ZM311.93 325.65L313.93 327.95L311.93 330.25L309.93 327.95ZM313.17 324.86L315.17 327.16L313.17 329.46L311.17 327.16ZM314.41 324.12L316.41 326.42L314.41 328.72L312.41 326.42ZM315.65 327.01L317.65 329.31L315.65 331.61L313.65 329.31ZM316.89 324.31L318.89 326.61L316.89 328.91L314.89 326.61ZM318.13 323.31L320.13 325.61L318.13 327.91L316.13 325.61ZM319.37 325.22L321.37 327.52L319.37 329.82L317.37 327.52ZM320.61 323.75L322.61 326.05L320.61 328.35L318.61 326.05ZM321.86 324.20L323.86 326.50L321.86 328.80L319.86 326.50ZM323.10 323.62L325.10 325.92L323.10 328.22L321.10 325.92ZM324.34 323.88L326.34 326.18L324.34 328.48L322.34 326.18ZM325.58 321.52L327.58 323.82L325.58 326.12L323.58 323.82ZM326.82 322.75L328.82 325.05L326.82 327.35L324.82 325.05ZM328.06 322.87L330.06 325.17L328.06 327.47L326.06 325.17ZM329.30 326.75L331.30 329.05L329.30 331.35L327.30 329.05ZM330.54 323.11L332.54 325.41L330.54 327.71L328.54 325.41ZM331.78 324.10L333.78 326.40L331.78 328.70L329.78 326.40ZM333.02 324.87L335.02 327.17L333.02 329.47L331.02 327.17ZM334.27 323.64L336.27 325.94L334.27 328.24L332.27 325.94ZM335.51 322.29L337.51 324.59L335.51 326.89L333.51 324.59ZM336.75 321.93L338.75 324.23L336.75 326.53L334.75 324.23ZM337.99 326.22L339.99 328.52L337.99 330.82L335.99 328.52ZM339.23 325.87L341.23 328.17L339.23 330.47L337.23 328.17ZM340.47 324.46L342.47 326.76L340.47 329.06L338.47 326.76ZM341.71 327.32L343.71 329.62L341.71 331.92L339.71 329.62ZM342.95 322.98L344.95 325.28L342.95 327.58L340.95 325.28ZM344.19 324.05L346.19 326.35L344.19 328.65L342.19 326.35ZM345.43 325.59L347.43 327.89L345.43 330.19L343.43 327.89ZM346.68 322.47L348.68 324.77L346.68 327.07L344.68 324.77ZM347.92 324.37L349.92 326.67L347.92 328.97L345.92 326.67ZM349.16 324.14L351.16 326.44L349.16 328.74L347.16 326.44ZM350.40 323.09L352.40 325.39L350.40 327.69L348.40 325.39ZM351.64 323.68L353.64 325.98L351.64 328.28L349.64 325.98ZM352.88 323.89L354.88 326.19L352.88 328.49L350.88 326.19ZM354.12 323.72L356.12 326.02L354.12 328.32L352.12 326.02ZM355.36 319.58L357.36 321.88L355.36 324.18L353.36 321.88ZM356.60 319.03L358.60 321.33L356.60 323.63L354.60 321.33ZM357.84 323.90L359.84 326.20L357.84 328.50L355.84 326.20ZM359.09 322.49L361.09 324.79L359.09 327.09L357.09 324.79ZM360.33 322.53L362.33 324.83L360.33 327.13L358.33 324.83ZM361.57 324.68L363.57 326.98L361.57 329.28L359.57 326.98ZM362.81 324.34L364.81 326.64L362.81 328.94L360.81 326.64ZM364.05 322.27L366.05 324.57L364.05 326.87L362.05 324.57ZM365.29 324.15L367.29 326.45L365.29 328.75L363.29 326.45ZM366.53 324.78L368.53 327.08L366.53 329.38L364.53 327.08ZM367.77 326.56L369.77 328.86L367.77 331.16L365.77 328.86ZM369.01 326.59L371.01 328.89L369.01 331.19L367.01 328.89ZM370.25 325.68L372.25 327.98L370.25 330.28L368.25 327.98ZM371.50 324.20L373.50 326.50L371.50 328.80L369.50 326.50ZM372.74 322.71L374.74 325.01L372.74 327.31L370.74 325.01ZM373.98 326.33L375.98 328.63L373.98 330.93L371.98 328.63ZM375.22 325.40L377.22 327.70L375.22 330.00L373.22 327.70ZM376.46 322.14L378.46 324.44L376.46 326.74L374.46 324.44ZM377.70 325.45L379.70 327.75L377.70 330.05L375.70 327.75ZM378.94 324.56L380.94 326.86L378.94 329.16L376.94 326.86ZM380.18 325.62L382.18 327.92L380.18 330.22L378.18 327.92ZM381.42 323.72L383.42 326.02L381.42 328.32L379.42 326.02ZM382.66 326.09L384.66 328.39L382.66 330.69L380.66 328.39ZM383.90 327.59L385.90 329.89L383.90 332.19L381.90 329.89Z" stroke="#ff0000" stroke-width="1.1" fill="#fff"/></g><g font-family="Liberation Sans, Arial, sans-serif" fill="#000"><text x="47.6" y="480.2" text-anchor="end" font-size="17.9">0</text><text x="47.6" y="267.2" text-anchor="end" font-size="17.9">10</text><text x="47.6" y="54.2" text-anchor="end" font-size="17.9">20</text><text x="70.7" y="520.3" text-anchor="middle" font-size="17.8">289.4</text><text x="194.8" y="520.3" text-anchor="middle" font-size="17.8">289.5</text><text x="318.9" y="520.3" text-anchor="middle" font-size="17.8">289.6</text></g><g font-family="Liberation Sans, Arial, sans-serif" fill="#000" stroke="#000" stroke-width="0.25"><text x="73.7" y="542" font-size="19.7" xml:space="preserve">Laser excitation wavelength  / nm</text><text transform="translate(26.3 399.2) rotate(-90)" font-size="19.8" letter-spacing="0.07" xml:space="preserve">REMPI signal  / arb. unit</text><text x="102.8" y="32.9" font-size="19.5" font-style="italic">J</text><text x="117.5" y="32.9" font-size="19.5">=</text><text x="134.0" y="32.9" font-size="19.5">1</text><text x="62.2" y="80.0" font-size="19.5" font-style="italic">J</text><text x="77.4" y="80.0" font-size="19.5">=</text><text x="94.4" y="80.0" font-size="19.5">0</text><text x="322.6" y="311.2" font-size="19.5" font-style="italic">J</text><text x="337.8" y="311.2" font-size="19.5">=</text><text x="354.8" y="311.2" font-size="19.5">2</text><text x="165.4" y="308" font-size="19.5" letter-spacing="0.05">145K, <tspan font-style="italic">n</tspan>-H<tspan font-size="13" dy="5.2">2</tspan></text><text x="149.4" y="462.1" font-size="19.5" letter-spacing="0">10K, <tspan font-style="italic">n</tspan>-H<tspan font-size="13" dy="5.2">2</tspan></text></g>
</svg>
</body></html>
